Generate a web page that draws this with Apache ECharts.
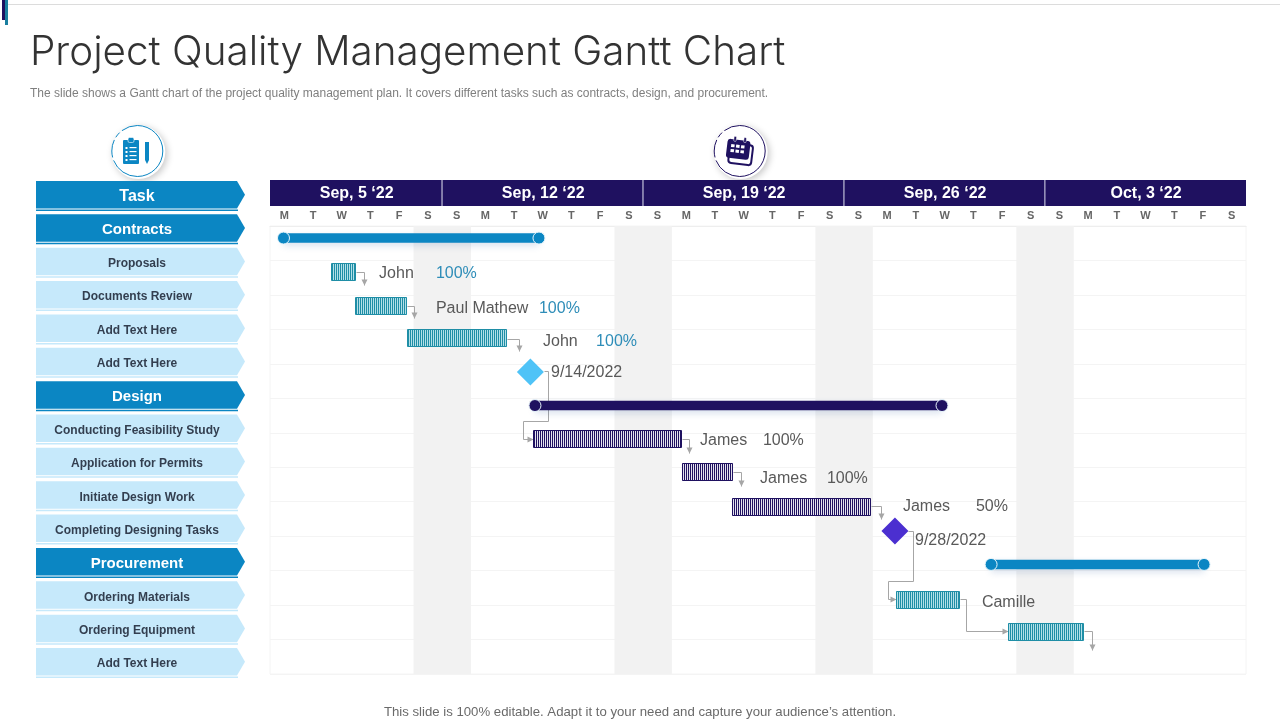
<!DOCTYPE html>
<html>
<head>
<meta charset="utf-8">
<style>html,body{margin:0;background:#fff}#chart{width:1280px;height:720px}</style>
<script src="https://cdn.jsdelivr.net/npm/echarts@6/dist/echarts.min.js"></script>
</head>
<body>
<div id="chart"></div>
<script>
// timeline: day 0 is Monday Sep 5 2022
const dayLetters = ['M','T','W','T','F','S','S','M','T','W','T','F','S','S','M','T','W','T','F','S','S','M','T','W','T','F','S','S','M','T','W','T','F','S'];
const weekLabels = ['Sep, 5 \u201822','Sep, 12 \u201822','Sep, 19 \u201822','Sep, 26 \u201822','Oct, 3 \u201822'];
const weekStarts = [0,6,13,20,27];
const weekEnds = [6,13,20,27,34];
const weekendStarts = [5,12,19,26];
const weekendEnds = [7,14,21,28];

// left column
const listNames = ['Task','Contracts','Proposals','Documents Review','Add Text Here','Add Text Here','Design','Conducting Feasibility Study','Application for Permits','Initiate Design Work','Completing Designing Tasks','Procurement','Ordering Materials','Ordering Equipment','Add Text Here'];
const listHeads = [0,1,6,11];

// summary bars
const summaryStarts = [0.47,9.23,25.12];
const summaryEnds = [9.37,23.41,32.54];
const summaryRows = [0.35,5.21,9.82];
const summaryGroups = ['blue','navy','blue'];

// hatched task bars
const taskStarts = [2.125,2.96,4.77,9.16,14.35,16.09,21.81,25.71];
const taskEnds = [3.0,4.77,8.26,14.35,16.13,20.94,24.04,28.36];
const taskRows = [1.33,2.31,3.26,6.18,7.14,8.15,10.85,11.78];
const taskGroups = ['blue','blue','blue','navy','navy','navy','blue','blue'];

// milestones
const milestoneDays = [9.07,21.77];
const milestoneRows = [4.24,8.85];
const milestoneGroups = ['sky','violet'];

// connectors as [day,row] corners, arrow at the last one
const linkPaths = [
  [[3.0,1.33],[3.28,1.33],[3.28,1.71]],
  [[4.77,2.31],[5.02,2.31],[5.02,2.67]],
  [[8.26,3.27],[8.66,3.27],[8.66,3.63]],
  [[9.53,4.21],[9.70,4.21],[9.70,5.66],[8.81,5.66],[8.81,6.18],[9.16,6.18]],
  [[14.35,6.18],[14.61,6.18],[14.61,6.59]],
  [[16.13,7.14],[16.41,7.14],[16.41,7.54]],
  [[20.94,8.12],[21.30,8.12],[21.30,8.50]],
  [[22.21,8.85],[22.41,8.85],[22.41,10.30],[21.53,10.30],[21.53,10.82],[21.81,10.82]],
  [[24.04,10.82],[24.25,10.82],[24.25,11.75],[25.71,11.75]],
  [[28.36,11.75],[28.64,11.75],[28.64,12.30]]
];

// texts next to the bars
const noteTexts = ['John','100%','Paul Mathew','100%','John','100%','9/14/2022','James','100%','James','100%','James','50%','9/28/2022','Camille'];
const noteDays = [3.80,5.78,5.78,9.37,9.51,11.36,9.79,14.98,17.17,17.07,19.40,22.05,24.59,22.47,24.80];
const noteRows = [1.39,1.39,2.41,2.41,3.34,3.34,4.25,6.24,6.24,7.34,7.34,8.14,8.14,9.14,10.94];
const noteAccent = [0,1,0,1,0,1,0,0,0,0,0,0,0,0,0];

const BLUE = '#0b86c3';
const NAVY = '#1f1160';
const FONT = '"Liberation Sans", Arial, sans-serif';
const palette = { blue: BLUE, navy: NAVY, sky: '#4fc3f7', violet: '#4b2fd0' };
const stripeColor = { blue: '#1f8ea6', navy: NAVY };

// vertical stripes for the task bars, 2px period
function stripes(dark, light) {
  const c = document.createElement('canvas');
  c.width = 2;
  c.height = 2;
  const ctx = c.getContext('2d');
  ctx.fillStyle = light;
  ctx.fillRect(0, 0, 2, 2);
  ctx.fillStyle = dark;
  ctx.fillRect(0, 0, 1, 2);
  return { image: c, repeat: 'repeat' };
}
const patterns = { blue: stripes(stripeColor.blue, '#b4e0e8'), navy: stripes(stripeColor.navy, '#e4e2ee') };

function renderWeekend(params, api) {
  const a = api.coord([api.value(0), 0]);
  const b = api.coord([api.value(1), 13]);
  return { type: 'rect', shape: { x: a[0], y: a[1], width: b[0] - a[0], height: b[1] - a[1] }, style: { fill: '#f2f2f2' } };
}

function renderWeek(params, api) {
  const a = api.coord([api.value(0), 'weeks']);
  const b = api.coord([api.value(1), 'weeks']);
  const h = api.size([0, 1])[1];
  const top = a[1] - h / 2;
  return {
    type: 'group',
    children: [
      { type: 'rect', shape: { x: a[0], y: top, width: b[0] - a[0], height: h }, style: { fill: NAVY } },
      { type: 'rect', shape: { x: a[0] - 1, y: top, width: params.dataIndex ? 1.5 : 0, height: h }, style: { fill: '#9b96bd' } },
      { type: 'text', style: { x: (a[0] + b[0]) / 2 + 0.5, y: a[1] + 1, text: weekLabels[params.dataIndex], align: 'center', verticalAlign: 'middle', font: 'bold 16px ' + FONT, fill: '#fff' } }
    ]
  };
}

function renderList(params, api) {
  const i = params.dataIndex;
  const key = listNames[i] + '#' + i;
  const y = api.coord([0, key])[1];
  const x0 = api.coord([0, key])[0];
  const x1 = api.coord([1, key])[0];
  const head = listHeads.indexOf(i) >= 0;
  const fill = head ? BLUE : '#c6e9fb';
  const top = y - 15;
  const bot = y + 12.5;
  return {
    type: 'group',
    children: [
      { type: 'polygon', shape: { points: [[x0, top], [x1 - 8, top], [x1, (top + bot) / 2], [x1 - 8, bot], [x0, bot]] }, style: { fill: fill } },
      { type: 'rect', shape: { x: x0, y: bot + 1, width: x1 - x0 - 7, height: 1.5 }, style: { fill: fill } },
      { type: 'text', style: { x: 137, y: y + 1, text: listNames[i], align: 'center', verticalAlign: 'middle', font: head ? 'bold ' + (i ? 15 : 16) + 'px ' + FONT : 'bold 12px ' + FONT, fill: head ? '#fff' : '#333f50' } }
    ]
  };
}

function renderLink(params, api) {
  const pts = linkPaths[params.dataIndex].map(function (p) {
    const c = api.coord(p);
    return [Math.round(c[0]) + 0.5, Math.round(c[1]) + 0.5];
  });
  const end = pts[pts.length - 1];
  const prev = pts[pts.length - 2];
  const grey = '#a6a6a6';
  // arrow head follows the last segment
  const down = Math.abs(end[1] - prev[1]) > Math.abs(end[0] - prev[0]);
  const head = down
    ? [[end[0] - 3, end[1] - 6], [end[0] + 3, end[1] - 6], end]
    : [[end[0] - 6, end[1] - 3], [end[0] - 6, end[1] + 3], end];
  return {
    type: 'group',
    children: [
      { type: 'polyline', shape: { points: pts }, style: { fill: null, stroke: grey, lineWidth: 1 } },
      { type: 'polygon', shape: { points: head }, style: { fill: grey } }
    ]
  };
}

function renderSummary(params, api) {
  const a = api.coord([api.value(0), api.value(2)]);
  const b = api.coord([api.value(1), api.value(2)]);
  const color = palette[summaryGroups[params.dataIndex]];
  const dot = function (x) {
    return { type: 'circle', shape: { cx: x, cy: a[1], r: 6 }, style: { fill: color, stroke: '#e8f6fc', lineWidth: 1 } };
  };
  return {
    type: 'group',
    children: [
      { type: 'rect', shape: { x: a[0], y: a[1] - 4.75, width: b[0] - a[0], height: 9.5 }, style: { fill: color, shadowBlur: 7, shadowOffsetY: 3, shadowColor: 'rgba(40,90,160,0.18)' } },
      dot(a[0]),
      dot(b[0])
    ]
  };
}

function renderTask(params, api) {
  const a = api.coord([api.value(0), api.value(2)]);
  const b = api.coord([api.value(1), api.value(2)]);
  const g = taskGroups[params.dataIndex];
  return {
    type: 'rect',
    shape: { x: Math.round(a[0]) + 0.5, y: Math.round(a[1] - 9) + 0.5, width: Math.round(b[0] - a[0]) - 1, height: 17 },
    style: { fill: patterns[g], stroke: stripeColor[g], lineWidth: 1 }
  };
}

function renderMilestone(params, api) {
  const c = api.coord([api.value(0), api.value(1)]);
  const r = 13.5;
  return {
    type: 'polygon',
    shape: { points: [[c[0] - r, c[1]], [c[0], c[1] - r], [c[0] + r, c[1]], [c[0], c[1] + r]] },
    style: { fill: palette[milestoneGroups[params.dataIndex]] }
  };
}

function renderNote(params, api) {
  const c = api.coord([api.value(0), api.value(1)]);
  const i = params.dataIndex;
  return {
    type: 'text',
    style: { x: c[0], y: c[1], text: noteTexts[i], align: 'left', verticalAlign: 'middle', font: '16px ' + FONT, fill: noteAccent[i] ? '#2e8db8' : '#595959' }
  };
}

// badge with dashed ring above the columns
function badge(cx, cy, color) {
  return [
    { type: 'circle', shape: { cx: cx + 1, cy: cy + 1, r: 27 }, style: { fill: '#fff', shadowBlur: 7, shadowOffsetX: 2, shadowOffsetY: 2, shadowColor: 'rgba(0,0,0,0.22)' } },
    { type: 'circle', shape: { cx: cx, cy: cy, r: 25.5 }, style: { fill: '#fff', stroke: color, lineWidth: 1, lineDash: [70, 3, 18, 3, 6, 3, 60, 3] } }
  ];
}

const clipboardIcon = [
  { type: 'rect', shape: { x: 123, y: 140, width: 16, height: 24, r: 1 }, style: { fill: BLUE } },
  { type: 'rect', shape: { x: 128, y: 137.5, width: 6, height: 5, r: 1.5 }, style: { fill: BLUE, stroke: '#fff', lineWidth: 0.6 } },
  { type: 'rect', shape: { x: 129.5, y: 147, width: 7, height: 1.2 }, style: { fill: '#fff' } },
  { type: 'rect', shape: { x: 129.5, y: 151, width: 7, height: 1.2 }, style: { fill: '#fff' } },
  { type: 'rect', shape: { x: 129.5, y: 155, width: 7, height: 1.2 }, style: { fill: '#fff' } },
  { type: 'rect', shape: { x: 129.5, y: 159, width: 7, height: 1.2 }, style: { fill: '#fff' } },
  { type: 'rect', shape: { x: 125.5, y: 147, width: 2, height: 2 }, style: { fill: '#fff' } },
  { type: 'rect', shape: { x: 125.5, y: 151, width: 2, height: 2 }, style: { fill: '#fff' } },
  { type: 'rect', shape: { x: 125.5, y: 155, width: 2, height: 2 }, style: { fill: '#fff' } },
  { type: 'rect', shape: { x: 125.5, y: 159, width: 2, height: 2 }, style: { fill: '#fff' } },
  { type: 'polygon', shape: { points: [[145, 142], [149, 142], [149, 160], [147, 164], [145, 160]] }, style: { fill: BLUE } }
];

const calendarIcon = {
  type: 'group',
  x: 739.5,
  y: 151,
  rotation: -0.12,
  children: [
    { type: 'rect', shape: { x: -10, y: -7, width: 23, height: 20, r: 3 }, style: { fill: '#fff', stroke: NAVY, lineWidth: 2 } },
    { type: 'rect', shape: { x: -13, y: -11, width: 23, height: 19, r: 3 }, style: { fill: NAVY } },
    { type: 'rect', shape: { x: -7, y: -14, width: 2.5, height: 5, r: 1 }, style: { fill: NAVY, stroke: '#fff', lineWidth: 0.5 } },
    { type: 'rect', shape: { x: 3, y: -14, width: 2.5, height: 5, r: 1 }, style: { fill: NAVY, stroke: '#fff', lineWidth: 0.5 } },
    { type: 'rect', shape: { x: -9, y: -6, width: 3.5, height: 3 }, style: { fill: '#fff' } },
    { type: 'rect', shape: { x: -4, y: -6, width: 3.5, height: 3 }, style: { fill: '#fff' } },
    { type: 'rect', shape: { x: 1, y: -6, width: 3.5, height: 3 }, style: { fill: '#fff' } },
    { type: 'rect', shape: { x: -9, y: -1, width: 3.5, height: 3 }, style: { fill: '#fff' } },
    { type: 'rect', shape: { x: -4, y: -1, width: 3.5, height: 3 }, style: { fill: '#fff' } },
    { type: 'rect', shape: { x: 1, y: -1, width: 3.5, height: 3 }, style: { fill: '#fff' } }
  ]
};

const option = {
  animation: false,
  backgroundColor: '#fff',
  title: [
    { text: 'Project Quality Management Gantt Chart', left: 30, top: 33, padding: 0, textStyle: { fontFamily: 'Inter', fontWeight: 300, fontSize: 40.4, color: '#333' } },
    { text: 'The slide shows a Gantt chart of the project quality management plan. It covers different tasks such as contracts, design, and procurement.', left: 30, top: 88, padding: 0, textStyle: { fontFamily: FONT, fontWeight: 'normal', fontSize: 12, color: '#7f7f7f' } },
    { text: 'This slide is 100% editable. Adapt it to your need and capture your audience\u2019s attention.', left: 'center', top: 706, padding: 0, textStyle: { fontFamily: FONT, fontWeight: 'normal', fontSize: 13.2, color: '#6a6a6a' } }
  ],
  grid: [
    { left: 270, top: 226, width: 976, height: 448, show: true, borderColor: '#f4f4f4', borderWidth: 1 },
    { left: 270, top: 180, width: 976, height: 26 },
    { left: 36, top: 179.3, width: 209, height: 500.4 }
  ],
  xAxis: [
    { type: 'value', gridIndex: 0, min: 0, max: 34, show: false },
    {
      type: 'category', gridIndex: 0, position: 'top', data: dayLetters,
      axisLine: { lineStyle: { color: '#eeeeee' } },
      axisTick: { length: 20, lineStyle: { color: '#f2f2f2' } },
      axisLabel: { interval: 0, margin: 5, fontFamily: FONT, fontWeight: 'bold', fontSize: 11, color: '#666' },
      splitLine: { show: false }
    },
    { type: 'value', gridIndex: 1, min: 0, max: 34, show: false },
    { type: 'value', gridIndex: 2, min: 0, max: 1, show: false }
  ],
  yAxis: [
    {
      type: 'value', gridIndex: 0, inverse: true, min: 0, max: 13, interval: 1,
      axisLine: { show: false }, axisTick: { show: false }, axisLabel: { show: false },
      splitLine: { lineStyle: { color: '#f4f4f4', width: 1 } }
    },
    { type: 'category', gridIndex: 1, data: ['weeks'], show: false },
    { type: 'category', gridIndex: 2, inverse: true, data: listNames.map(function (n, i) { return n + '#' + i; }), show: false }
  ],
  graphic: { elements: [
    { type: 'rect', shape: { x: 8, y: 4, width: 1272, height: 1 }, style: { fill: '#dcdcdc' } },
    { type: 'rect', shape: { x: 2, y: 0, width: 3, height: 20 }, style: { fill: NAVY } },
    { type: 'rect', shape: { x: 5, y: 0, width: 3, height: 25 }, style: { fill: '#1a7fa0' } }
  ].concat(badge(137.3, 151, BLUE), clipboardIcon, badge(739.7, 151, NAVY), [calendarIcon]) },
  series: [
    {
      type: 'custom', name: 'weekend', xAxisIndex: 0, yAxisIndex: 0, z: 1, silent: true,
      renderItem: renderWeekend, encode: { x: [0, 1] },
      data: weekendStarts.map(function (s, i) { return [s, weekendEnds[i]]; })
    },
    {
      type: 'custom', name: 'links', xAxisIndex: 0, yAxisIndex: 0, z: 3, silent: true,
      renderItem: renderLink, encode: { x: 0, y: 1 },
      data: linkPaths.map(function (p) { return p[0]; })
    },
    {
      type: 'custom', name: 'summary', xAxisIndex: 0, yAxisIndex: 0, z: 4,
      renderItem: renderSummary, encode: { x: [0, 1], y: 2 },
      data: summaryStarts.map(function (s, i) { return [s, summaryEnds[i], summaryRows[i]]; })
    },
    {
      type: 'custom', name: 'tasks', xAxisIndex: 0, yAxisIndex: 0, z: 4,
      renderItem: renderTask, encode: { x: [0, 1], y: 2 },
      data: taskStarts.map(function (s, i) { return [s, taskEnds[i], taskRows[i]]; })
    },
    {
      type: 'custom', name: 'milestones', xAxisIndex: 0, yAxisIndex: 0, z: 4,
      renderItem: renderMilestone, encode: { x: 0, y: 1 },
      data: milestoneDays.map(function (d, i) { return [d, milestoneRows[i]]; })
    },
    {
      type: 'custom', name: 'notes', xAxisIndex: 0, yAxisIndex: 0, z: 5, silent: true,
      renderItem: renderNote, encode: { x: 0, y: 1 },
      data: noteDays.map(function (d, i) { return [d, noteRows[i]]; })
    },
    {
      type: 'custom', name: 'weeks', xAxisIndex: 2, yAxisIndex: 1, z: 4, silent: true,
      renderItem: renderWeek, encode: { x: [0, 1] },
      data: weekStarts.map(function (s, i) { return [s, weekEnds[i]]; })
    },
    {
      type: 'custom', name: 'list', xAxisIndex: 3, yAxisIndex: 2, z: 4, silent: true,
      renderItem: renderList, encode: { y: 1 },
      data: listNames.map(function (n, i) { return [0, n + '#' + i]; })
    }
  ]
};

const myChart = echarts.init(document.getElementById('chart'));
myChart.setOption(option);
</script>
</body>
</html>
